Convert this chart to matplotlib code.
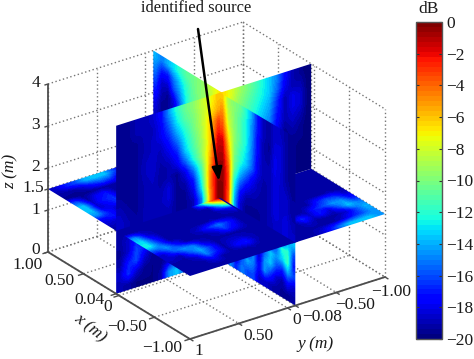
"""
Acoustic source map on three cutting planes, drawn as an oblique projection.
"""
import matplotlib
matplotlib.use("Agg")
import matplotlib.pyplot as plt
import numpy as np
from matplotlib.patches import Polygon
from matplotlib.transforms import Affine2D
from matplotlib.cm import ScalarMappable
from matplotlib.colors import Normalize

plt.rcParams['font.family'] = ['Liberation Serif', 'DejaVu Serif']

# cutting plane positions (m)
x_cut = 0.04
y_cut = -0.08
z_cut = 1.5
# panels behind a seam run this far under the panel in front (m)
lap = 0.03

# ticks
x_ticks = [1.0, 0.5, 0.04, 0.0, -0.5, -1.0]
x_tick_labels = ["1.00", "0.50", "0.04", "0", "\u22120.50", "\u22121.00"]
y_ticks = [1.0, 0.5, 0.0, -0.08, -0.5, -1.0]
y_tick_labels = ["1", "0.50", "0", "\u22120.08", "\u22120.50", "\u22121.00"]
z_ticks = [0, 1, 1.5, 2, 3, 4]
z_tick_labels = ["0", "1", "1.5", "2", "3", "4"]
cbar_ticks = [0, -2, -4, -6, -8, -10, -12, -14, -16, -18, -20]

# dB values, plane x = x_cut above z_cut, y from 1 to y_cut, top row z = 4
x_upper_near = [
    [-19.5, -19.5, -19, -19, -18.5, -17.5, -14.5, -12, -10.5, -9.6, -8.3, -7.5, -6],
    [-19.5, -19.5, -19, -19, -18.8, -17.8, -15.5, -12.8, -11, -10, -8.6, -7, -5.5],
    [-19.5, -19.5, -19.5, -19, -18.7, -18, -16.5, -14, -12, -10.3, -8.7, -6.3, -3.5],
    [-19.5, -19.5, -19.5, -19, -18.7, -18.7, -17.5, -15.5, -12.8, -10.8, -9, -6.5, -2.5],
    [-19.5, -19.5, -19.5, -18.8, -18.5, -19, -18.3, -17, -13.5, -11.3, -9.2, -6.5, -1.5],
    [-19.5, -19.5, -19.5, -18.8, -18.5, -19.2, -19, -18, -15.5, -12.3, -9.5, -6, -1],
    [-19.5, -19.5, -19.5, -19, -18.7, -19.3, -19, -19.5, -18, -15, -11, -5.5, -0.6],
    [-19.3, -19.5, -19.5, -19, -19, -19, -18.3, -19.5, -19, -17, -12, -5, -0.4],
    [-18.8, -19.3, -19.5, -19, -19, -18.8, -18.3, -19.5, -19.5, -18, -13, -5, -0.3],
    [-18.5, -19, -19.3, -19, -19, -19, -18.8, -19.5, -19.5, -19, -15, -5.5, -0.3],
]

# plane x = x_cut above z_cut, y from y_cut to -1
x_upper_far = [
    [-6.5, -7.5, -9, -10, -11, -12.3, -13.5, -15, -17.5, -19, -19.5, -20],
    [-5.5, -8, -9.5, -10.5, -11.5, -12.5, -13.5, -15.5, -18, -19, -19, -20],
    [-5, -8, -10, -11, -12, -13, -14, -16.5, -19, -18, -18.5, -20],
    [-4, -8, -10, -11, -12.5, -13.5, -14.5, -17, -19, -18, -18.5, -20],
    [-3, -8, -10.5, -12, -13, -14, -15, -17.5, -19, -18.5, -19, -20],
    [-2, -8, -11, -13, -14, -15, -16, -18, -19.5, -19, -19.5, -20],
    [-1, -8, -12, -14, -15, -16, -17, -18.5, -19.5, -19.5, -19.5, -20],
    [-1, -8, -13, -15, -16, -17, -18, -19, -19.5, -19.5, -20, -20],
    [-1, -9, -14, -16, -17, -18, -19, -19, -19.5, -19.5, -20, -20],
    [-1, -10, -15, -17, -18, -19, -19, -19, -19.5, -19.5, -20, -20],
]

# plane y = y_cut above z = 2.5, x from 1 to x_cut
y_upper_far = [
    [-14, -15, -14, -13, -12, -11, -10.5, -10, -9.5, -8.5, -7.5, -6.5],
    [-15, -17, -17, -15, -13.5, -12, -10.8, -10, -9.5, -9, -7.5, -6],
    [-16, -18.5, -18.5, -16, -14.5, -12.5, -11, -10.3, -9.5, -9, -8, -5],
    [-17, -19, -19.5, -18, -15.5, -13, -11.3, -10.5, -9.7, -9, -8, -4],
    [-18, -19.5, -19.5, -18.5, -16, -13.5, -11.5, -10.5, -9.7, -9, -8, -3],
    [-18.5, -19.5, -19.5, -19, -17, -14, -12, -11, -10, -9, -8, -2],
]

# plane y = y_cut above z_cut, x from x_cut to -1
y_upper_near = [
    [-6, -9, -9.8, -10.5, -12, -14, -17, -18.8, -19.3, -18.5, -18.8, -19.3, -19.6],
    [-5, -8.5, -9.8, -11, -12.5, -14.5, -17, -18.8, -19.3, -18.5, -18.5, -19.3, -19.6],
    [-4, -8, -9.7, -11, -12.5, -14.5, -17.5, -19, -19.5, -18.2, -18.3, -19.3, -19.6],
    [-3, -7, -9.5, -11, -12.5, -14.8, -17.5, -19, -19.3, -18, -18.3, -19.3, -19.6],
    [-1.5, -6, -9.8, -11.5, -13, -15, -17.8, -19, -19, -18, -18.5, -19.3, -19.6],
    [-1, -5, -10, -12, -13.5, -15.5, -18, -19, -19, -18.2, -18.5, -19, -19.6],
    [-0.6, -4, -10.5, -13.5, -15.5, -17.5, -18.7, -19.2, -19, -18.2, -18.5, -18.6, -19.3],
    [-0.4, -3.5, -12, -15.5, -17.5, -18.5, -19, -19.2, -19, -18.2, -18.5, -18.6, -19.3],
    [-0.3, -3.5, -13, -17.5, -19, -19.2, -19.2, -19.2, -19, -18.2, -18.5, -18.3, -19],
    [-0.3, -4, -14, -18.5, -19.5, -19.5, -19.5, -19.2, -19, -18.6, -18.5, -18.3, -18.7],
]

# plane x = x_cut below z_cut, y from 1 to y_cut, top row z = 1.5
x_lower_near = [
    [-19.2, -19.2, -19.2, -18.5, -18.5, -19.2, -19.2, -19.2, -19.2, -19.2, -19.2, -19.2, -19.2],
    [-19.2, -18.5, -17, -18.5, -19.2, -19.2, -19.2, -19.2, -19.2, -19.2, -19.2, -19.2, -19.2],
    [-19.5, -18.5, -16, -17, -19.2, -19.5, -19.2, -19.2, -19.2, -19.2, -19.2, -19.2, -19.2],
    [-19.2, -17, -16, -18.5, -19.5, -19.7, -19.7, -19.2, -19.2, -19.2, -19.2, -19.2, -19.2],
    [-18.5, -16.5, -18.5, -19.5, -19.7, -19.5, -18.5, -16, -17, -19.2, -19.2, -19.2, -19.2],
    [-19, -19.2, -19.7, -19.7, -19.7, -19.2, -14.5, -13.5, -16, -19.2, -19.2, -19.2, -19.2],
]

# plane y = y_cut below z_cut, x from x_cut to -1
y_lower_near = [
    [-19.2, -19.2, -19.2, -19.2, -19.2, -19.2, -19.2, -19.2, -19.2, -19.2, -19.2, -14.5, -13.5],
    [-19.2, -19.2, -19.2, -19.2, -19.2, -19.2, -19.2, -19.2, -18.5, -16, -12, -12, -16],
    [-19.2, -19.2, -19.2, -19.2, -19.2, -19.2, -19.2, -16, -13.5, -14.5, -13.5, -11.5, -17],
    [-19.2, -19.2, -19.2, -19.2, -18.5, -14.5, -18.5, -14.5, -13.5, -16, -17, -14.5, -16],
    [-19.2, -19.2, -19.2, -16, -14, -15, -17.7, -14.5, -16.5, -18.5, -19.2, -17.7, -18.5],
    [-19.2, -14.5, -17, -15, -16, -16, -18.5, -18.5, -19, -19.2, -19.5, -19.5, -19.2],
]

# plane z = z_cut, rows x from 1 to x_cut, columns y from 1 to y_cut
z_left = [
    [-18.5, -17, -16, -14, -13.5, -13.5, -16, -18.5, -19.2, -19.2, -19.2],
    [-19.2, -19.2, -18.5, -17, -16, -16.5, -18.5, -19.2, -19.2, -19.2, -19.2],
    [-19.5, -19.7, -19.5, -19.2, -19.2, -19.2, -19.2, -19.2, -19.2, -19.2, -19.2],
    [-16, -19.2, -17.7, -17, -19.2, -19.5, -19.2, -19.2, -19.2, -19.2, -19.2],
    [-13.5, -18.5, -17, -16.5, -19, -19.2, -19.2, -19.2, -19.2, -19.2, -19.2],
    [-13.5, -18.5, -17.7, -16.5, -18.5, -19.2, -19.2, -19.2, -19.2, -19.2, -19.2],
    [-14.5, -17, -18.5, -19.2, -19.2, -19.2, -19.2, -19.2, -19.2, -19.2, -19.2],
    [-17.7, -17, -18.5, -19.5, -19.2, -19.2, -19.2, -19.2, -19.2, -19.2, -19.2],
    [-18.5, -19, -19.2, -19.2, -19.2, -19.2, -19.2, -19.2, -19.2, -19.2, -19.2],
    [-19.2, -19.2, -19.2, -19.2, -19.2, -19.2, -19.2, -19.2, -19.2, -19.2, -19.2],
]

# plane z = z_cut, rows x from x_cut to -1, columns y from 1 to y_cut
z_front = [
    [-19.2, -19.2, -19.2, -19.2, -19.2, -19.2, -19.2, -19.2, -13, -4, -1],
    [-19.2, -19.2, -19.2, -19.2, -19.2, -19.2, -19.2, -19.2, -19, -13, -7],
    [-14.5, -18.5, -19.2, -19.2, -19.2, -19.2, -19.2, -19.2, -19.2, -18.5, -17],
    [-13, -17, -19.2, -19.2, -19.2, -19.2, -19.2, -19, -19.2, -19.2, -19.2],
    [-12.5, -16, -19.2, -19.2, -19.2, -18.5, -16.5, -15, -17, -19.2, -19.2],
    [-16, -14.5, -17, -19.2, -19.2, -19.2, -18.5, -16.5, -17.7, -19.2, -19.2],
    [-18.5, -16, -14.5, -15, -18.5, -19.2, -19.2, -19.2, -19.2, -19.2, -19.2],
    [-18.5, -19, -16, -14, -16.5, -19.2, -18.5, -18.5, -19, -19.2, -19.2],
    [-19.2, -19.2, -18.5, -15, -17, -19.2, -17.7, -17, -19, -19.2, -19.2],
    [-19.2, -19.2, -19.2, -17.7, -19.2, -19.2, -19.2, -19, -19.2, -19.2, -19.2],
    [-19.2, -19.2, -19.2, -19.2, -19.2, -19.2, -19.2, -19.2, -19.2, -19.2, -19.2],
]

# plane z = z_cut, rows x from x_cut to -1, columns y from y_cut to -1
z_right = [
    [-19.2, -19.2, -19.2, -19.2, -19.2, -19.2, -19.2, -19.2, -19.2, -19.2],
    [-19.2, -19.2, -19.2, -19.2, -19.2, -19.2, -19.2, -19.2, -19.2, -19.2],
    [-19.2, -19.2, -19.2, -19.2, -19.2, -19.2, -19.2, -19.2, -19.2, -19.2],
    [-19.2, -19.2, -19.2, -19.2, -19.2, -19.2, -19.2, -19.2, -19.2, -19.2],
    [-19.2, -19.2, -19.2, -19.2, -19.2, -19.2, -19.2, -19.2, -19, -19.2],
    [-19.2, -19.2, -19.2, -19.2, -19.2, -19.2, -17, -16, -16.5, -18.5],
    [-19.2, -19.2, -19.2, -19.2, -19, -17, -16, -14.5, -14.5, -17],
    [-19.2, -19.2, -19.2, -16.5, -18.5, -17, -18.5, -16, -13.5, -15],
    [-19.2, -19.2, -19.2, -18.5, -19.2, -19.2, -19.2, -18.5, -16, -14],
    [-19.2, -19.2, -19.2, -19.2, -19.2, -19.2, -18.5, -17, -16, -14.5],
    [-19.2, -19.2, -19.2, -18.5, -17, -15, -13.5, -13.5, -13.5, -14.5],
]

fig = plt.figure(figsize=(4.74, 3.59), dpi=100)
ax = fig.add_axes([0, 0, 1, 1])
ax.set_axis_off()

norm = Normalize(vmin=-20, vmax=0)
cmap = plt.get_cmap('jet', 64)


def project(x, y, z):
    """ Oblique projection of a point in metres to picture pixels. """
    u = 1 - x
    v = 1 - y
    return 48 + 71 * u + 97.5 * v, 252 + 43.5 * u - 31 * v - 42 * z


def draw_panel(values, top_left, top_right, bottom_left, order):
    """ Paint a grid of dB values on the flat panel given by three corners. """
    x0, y0 = project(*top_left)
    x1, y1 = project(*top_right)
    x2, y2 = project(*bottom_left)
    skew = Affine2D.from_values(x1 - x0, y1 - y0, x2 - x0, y2 - y0, x0, y0)
    # one repeated cell around the grid, clipped back to the panel, hides the
    # faded edge that the resampling leaves
    rows, cols = np.shape(values)
    padded = np.pad(values, 1, mode='edge')
    image = ax.imshow(padded, origin='lower',
                      extent=(-1 / cols, 1 + 1 / cols, -1 / rows, 1 + 1 / rows),
                      aspect='auto', cmap=cmap, norm=norm, interpolation='bilinear',
                      interpolation_stage='data', transform=skew + ax.transData,
                      zorder=order)
    corners = [(x0, y0), (x1, y1), (x1 + x2 - x0, y1 + y2 - y0), (x2, y2)]
    image.set_clip_path(Polygon(corners, transform=ax.transData))


def line3d(start, end, **style):
    xs, ys = zip(project(*start), project(*end))
    ax.plot(xs, ys, **style)


# grid on the floor and the two back walls
grid_style = dict(color='#767676', lw=1.0, ls=(0, (1, 1.8)), zorder=1)
for x in x_ticks:
    line3d((x, 1, 0), (x, -1, 0), **grid_style)
    line3d((x, -1, 0), (x, -1, 4), **grid_style)
for y in y_ticks:
    line3d((1, y, 0), (-1, y, 0), **grid_style)
    line3d((1, y, 0), (1, y, 4), **grid_style)
for z in z_ticks:
    line3d((1, 1, z), (1, -1, z), **grid_style)
    line3d((1, -1, z), (-1, -1, z), **grid_style)

# panels painted from the back to the front, overlapping at the seams
draw_panel(x_lower_near, (x_cut, 1, z_cut + lap), (x_cut, y_cut, z_cut + lap), (x_cut, 1, 0), 2)
draw_panel(y_lower_near, (x_cut, y_cut, z_cut + lap), (-1, y_cut, z_cut + lap), (x_cut, y_cut, 0), 2)
draw_panel(z_left, (1, 1, z_cut), (1, y_cut, z_cut), (x_cut, 1, z_cut), 3)
draw_panel(z_front, (x_cut + lap, 1, z_cut), (x_cut + lap, y_cut - lap, z_cut), (-1, 1, z_cut), 3)
draw_panel(z_right, (x_cut, y_cut + lap, z_cut), (x_cut, -1, z_cut), (-1, y_cut + lap, z_cut), 3)
draw_panel(y_upper_far, (1, y_cut, 4), (x_cut - lap, y_cut, 4), (1, y_cut, 2.5), 4)
draw_panel(x_upper_far, (x_cut, y_cut + lap, 4), (x_cut, -1, 4), (x_cut, y_cut + lap, z_cut), 4)
draw_panel(x_upper_near, (x_cut, 1, 4), (x_cut, y_cut, 4), (x_cut, 1, z_cut), 5)
draw_panel(y_upper_near, (x_cut, y_cut + lap / 2, 4), (-1, y_cut, 4), (x_cut, y_cut + lap / 2, z_cut), 5)

ax.set_xlim(0, 474)
ax.set_ylim(359, 0)

# axis lines
axis_style = dict(color='#4d4d4d', lw=1.3, zorder=6, solid_capstyle='butt')
line3d((1, 1, 0), (1, 1, 4), **axis_style)
line3d((1, 1, 0), (-1, 1, 0), **axis_style)
line3d((-1, 1, 0), (-1, -1, 0), **axis_style)

tick_style = dict(color='#4d4d4d', lw=1.0, zorder=6)
for z in z_ticks:
    line3d((1, 1, z), (1, 1.03, z), **tick_style)
for x in x_ticks:
    line3d((x, 1, 0), (x, 1.05, 0), **tick_style)
for y in y_ticks:
    line3d((-1, y, 0), (-1.04, y, 0), **tick_style)

# tick labels, offset in pixels from the tick
label_style = dict(fontsize=12.5, ha='center', va='center', color='#1a1a1a', zorder=7)
z_offsets = [(-12, -2), (-12, -0.5), (-15, -1), (-12, -1), (-12, -1), (-12, -1)]
x_offsets = [(-20, 13), (-24, 7), (-27, 6), (-11, 11.5), (-27.5, 10), (-28, 9)]
y_offsets = [(9, 12), (20, 12.5), (9.5, 12), (27, 11.5), (19, 12.5), (6, 15)]

for z, text, off in zip(z_ticks, z_tick_labels, z_offsets):
    px, py = project(1, 1, z)
    ax.text(px + off[0], py + off[1], text, **label_style)
for x, text, off in zip(x_ticks, x_tick_labels, x_offsets):
    px, py = project(x, 1, 0)
    ax.text(px + off[0], py + off[1], text, **label_style)
for y, text, off in zip(y_ticks, y_tick_labels, y_offsets):
    px, py = project(-1, y, 0)
    ax.text(px + off[0], py + off[1], text, **label_style)

ax.text(11, 171, "z (m)", rotation=90, style='italic', **label_style)
ax.text(90, 328, "x (m)", rotation=-38, style='italic', **label_style)
ax.text(316, 344, "y (m)", style='italic', **label_style)
ax.text(196, 8, "identified source", **{**label_style, 'fontsize': 11.9})
ax.text(429, 9, "dB", **label_style)

ax.annotate("", xy=(219, 181), xytext=(198, 29), zorder=8,
            arrowprops=dict(arrowstyle='-|>,head_width=0.3,head_length=0.8',
                            color='black', lw=1.8, shrinkA=0, shrinkB=0))

# colour bar
cax = fig.add_axes([416 / 474, 1 - 339 / 359, 26 / 474, 317 / 359])
cbar = fig.colorbar(ScalarMappable(norm=norm, cmap=cmap), cax=cax, ticks=cbar_ticks)
cbar.ax.set_yticklabels([str(t).replace("-", "\u2212") for t in cbar_ticks])
cbar.ax.tick_params(direction='in', length=2.5, width=0.8, color='#333333',
                    labelsize=12.5, pad=3, labelcolor='#1a1a1a', right=True, left=True)
cbar.outline.set_edgecolor('#555555')
cbar.outline.set_linewidth(1.0)

fig.savefig("out.png", dpi=100)
